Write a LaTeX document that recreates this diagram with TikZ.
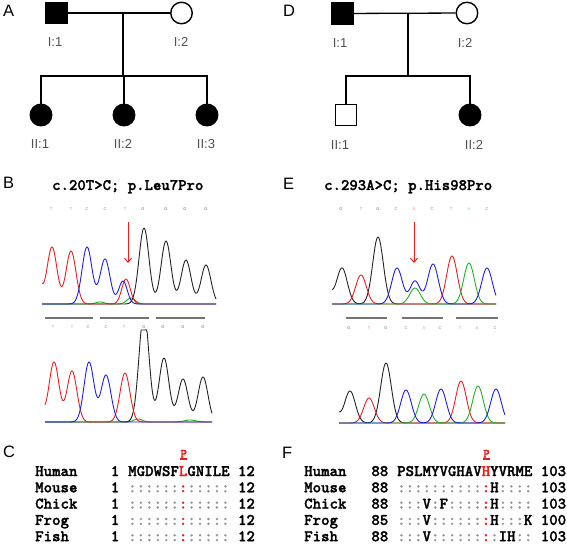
\documentclass[tikz,border=0pt]{standalone}
\usepackage{fontspec}
\setmainfont{Liberation Sans}
\newfontfamily\courb{lmmonolt10-bold.otf}[FakeBold=1.6]
\usetikzlibrary{arrows.meta}
\definecolor{tred}{RGB}{228,32,32}
\definecolor{tblue}{RGB}{32,32,215}
\definecolor{tgreen}{RGB}{35,175,35}
\definecolor{tblack}{RGB}{35,35,35}
\definecolor{ared}{RGB}{230,30,30}
\definecolor{colgray}{RGB}{150,150,150}
\definecolor{lblgray}{RGB}{80,80,80}
\newcommand{\gcl}[1]{\textcolor{colgray}{#1}}
\newcommand{\rcl}[1]{\textcolor{ared}{#1}}
\begin{document}
\begin{tikzpicture}[x=1pt,y=-1pt,
  declare function={gs(\gx,\gc,\gw)=exp(-((\gx-\gc)/\gw)*((\gx-\gc)/\gw));},
  panel/.style={font=\fontsize{16.5}{16.5}\selectfont, inner sep=0pt, anchor=base west},
  male/.style={draw, rectangle, line width=1.4pt, minimum size=21.5pt, inner sep=0pt},
  female/.style={draw, circle, line width=1.4pt, minimum size=21.5pt, inner sep=0pt},
  aff/.style={fill=black},
  pedline/.style={line width=1.3pt},
  plabel/.style={font=\fontsize{13}{13}\selectfont, text=lblgray, inner sep=0pt},
  trace/.style={line width=0.9pt, line join=round},
  basel/.style={font=\fontsize{4}{4}\selectfont, inner sep=0pt},
  sepbar/.style={line width=2pt, black!55},
  mutarrow/.style={ared, line width=1pt, -{Straight Barb[length=4pt,width=7pt]}},
  mono/.style={font=\courb\fontsize{16.1}{16.1}\selectfont, inner sep=0pt},
  title/.style={mono, font=\courb\fontsize{16}{16}\selectfont, anchor=base west},
  aln/.style={mono, anchor=base west},
  alnr/.style={mono, anchor=base east},
]
\useasboundingbox (0,0) rectangle (567,545);

% ---------------- panel labels
\node[panel] (lA) at (3,17) {A};
\node[panel] (lD) at (283,17) {D};
\node[panel] (lB) at (3,189) {B};
\node[panel] (lE) at (283,190) {E};
\node[panel] (lC) at (3,457) {C};
\node[panel] (lF) at (282,458) {F};

% ---------------- pedigree A
\node[male,aff] (a11) at (56.5,13) {};
\node[female] (a12) at (181.5,13) {};
\coordinate (am) at (123,13);
\coordinate (as) at (123,76);
\node[female,aff] (a21) at (41,115) {};
\node[female,aff] (a22) at (124,115) {};
\node[female,aff] (a23) at (207,115) {};
\draw[pedline] (a11) -- (a12);
\draw[pedline] (am) -- (as);
\draw[pedline] (a21.north) |- (as) -| (a23.north);
\draw[pedline] (a22.north) -- (a22.north |- as);
\node[plabel] (ta11) at (55,42) {I:1};
\node[plabel] (ta12) at (181,42) {I:2};
\node[plabel] (ta21) at (40,144) {II:1};
\node[plabel] (ta22) at (123,144) {II:2};
\node[plabel] (ta23) at (206,144) {II:3};

% ---------------- pedigree D
\node[male,aff] (d11) at (342.5,13.5) {};
\node[female] (d12) at (467,13) {};
\coordinate (dm) at (408,13);
\coordinate (ds) at (408,76);
\node[male] (d21) at (346,115) {};
\node[female,aff] (d22) at (470,115) {};
\draw[pedline] (d11) -- (d12);
\draw[pedline] (dm) -- (ds);
\draw[pedline] (d21.north) |- (ds) -| (d22.north);
\node[plabel] (td11) at (340,43) {I:1};
\node[plabel] (td12) at (465,43) {I:2};
\node[plabel] (td21) at (340,145) {II:1};
\node[plabel] (td22) at (474,145) {II:2};

% ---------------- titles
\node[title] (tB) at (52,190) {c.20T>C; p.Leu7Pro};
\node[title] (tE) at (324,190) {c.293A>C; p.His98Pro};

% ---------------- chromatogram B (top)
\foreach \xx/\ll/\cc in {51/T/tred,71/T/tred,87/C/tblue,105/C/tblue,125/T/tred,143/G/black,166/G/black,185/G/black,206/G/black}
  \node[basel, text=\cc!60] at (\xx,209) {\ll};
\draw[trace,tgreen] plot[domain=42:216,samples=120] (\x,{304-6*gs(\x,131,6)-2*gs(\x,100,6)});
\draw[trace,tblack] plot[domain=42:216,samples=200] (\x,{304-76*gs(\x,144,7)-63*gs(\x,166,7)-44*gs(\x,186,7)-39*gs(\x,206,7)});
\draw[trace,tred] plot[domain=42:216,samples=200] (\x,{304-50*gs(\x,34,7)-57*gs(\x,52,7)-53*gs(\x,71,7)-25*gs(\x,126,6)});
\draw[trace,tblue] plot[domain=42:216,samples=200] (\x,{304-57*gs(\x,87,7)-45*gs(\x,105,7)-23*gs(\x,123,6)});
\coordinate (bat) at (128,222);
\coordinate (bah) at (128,263);
\draw[mutarrow] (bat) -- (bah);

\draw[sepbar] (45,318) -- (93,318);
\draw[sepbar] (100,318) -- (149,318);
\draw[sepbar] (156,318) -- (205,318);

% ---------------- chromatogram B (bottom)
\foreach \xx/\ll/\cc in {53/T/tred,72/T/tred,88/C/tblue,106/C/tblue,124/T/tred,144/G/black,163/G/black,183/G/black,203/G/black}
  \node[basel, text=\cc!60] at (\xx,327) {\ll};
\draw[trace,tgreen] plot[domain=45:212,samples=120] (\x,{422-3*gs(\x,138,6)-2*gs(\x,190,8)});
\draw[trace,tblack] plot[domain=45:212,samples=220] (\x,{422-min(92,110*gs(\x,144,7))-64*gs(\x,164,7)-43*gs(\x,183,7)-45*gs(\x,203,7)});
\draw[trace,tred] plot[domain=45:212,samples=200] (\x,{422-30*gs(\x,36,7)-60*gs(\x,54,7)-51*gs(\x,72,7)-49*gs(\x,125,7)});
\draw[trace,tblue] plot[domain=45:212,samples=200] (\x,{422-60*gs(\x,89,7)-47*gs(\x,106,7)});

% ---------------- chromatogram E (top)
\foreach \xx/\ll/\cc in {341/G/black,361/T/tred,378/G/black,396/C/tblue,414/A/tred,432/C/tblue,451/T/tred,469/A/tgreen,487/C/tblue}
  \node[basel, text=\cc!60] at (\xx,209) {\ll};
\draw[trace,tblack] plot[domain=332:496,samples=200] (\x,{304-20*gs(\x,325,7.5)-36*gs(\x,342,7.5)-67*gs(\x,378,7.5)});
\draw[trace,tred] plot[domain=332:496,samples=200] (\x,{304-29*gs(\x,361,7.5)-48*gs(\x,452,7.5)});
\draw[trace,tgreen] plot[domain=332:496,samples=200] (\x,{304-16*gs(\x,415,7.5)-41*gs(\x,469,7.5)});
\draw[trace,tblue] plot[domain=332:496,samples=200] (\x,{304-36*gs(\x,397,7.5)-23*gs(\x,415,7)-40*gs(\x,433,7.5)-36*gs(\x,487,7.5)});
\coordinate (eat) at (414,222);
\coordinate (eah) at (414,263);
\draw[mutarrow] (eat) -- (eah);

\draw[sepbar] (346,318) -- (387,318);
\draw[sepbar] (402,318) -- (443,318);
\draw[sepbar] (456,318) -- (498,318);

% ---------------- chromatogram E (bottom)
\foreach \xx/\ll/\cc in {349/G/black,369/T/tred,386/G/black,406/C/tblue,424/A/tgreen,440/C/tblue,460/T/tred,477/A/tgreen,495/C/tblue}
  \node[basel, text=\cc!60] at (\xx,328) {\ll};
\draw[trace,tblack] plot[domain=339:505,samples=200] (\x,{423-18*gs(\x,332,7.5)-32*gs(\x,350,7.5)-60*gs(\x,386,7.5)});
\draw[trace,tred] plot[domain=339:505,samples=200] (\x,{423-25*gs(\x,369,7.5)-42*gs(\x,461,7.5)});
\draw[trace,tgreen] plot[domain=339:505,samples=200] (\x,{423-29*gs(\x,424,7.5)-37*gs(\x,478,7.5)});
\draw[trace,tblue] plot[domain=339:505,samples=200] (\x,{423-33*gs(\x,406,7.5)-34*gs(\x,441,7.5)-34*gs(\x,496,7.5)});

% ---------------- alignment C
\node[mono, text=ared, font=\courb\fontsize{12.5}{12.5}\selectfont, anchor=base] (pC) at (183.7,457.5) {P};
\draw[ared, line width=1.2pt] ([yshift=-1.5pt]pC.base west) -- ([yshift=-1.5pt]pC.base east);
\foreach \yy/\nm/\sq in {
  476/Human/{MGDWSF\rcl{L}GNILE},
  492.3/Mouse/{\gcl{::::::}\rcl{:}\gcl{:::::}},
  508.6/Chick/{\gcl{::::::}\rcl{:}\gcl{:::::}},
  524.9/Frog/{\gcl{::::::}\rcl{:}\gcl{:::::}},
  541.2/Fish/{\gcl{::::::}\rcl{:}\gcl{:::::}}}{
  \node[aln] at (35,\yy) {\nm};
  \node[alnr] at (119.5,\yy) {1};
  \node[aln] at (128,\yy) {\sq};
  \node[aln] at (237.8,\yy) {12};
}

% ---------------- alignment F
\node[mono, text=ared, font=\courb\fontsize{12.5}{12.5}\selectfont, anchor=base] (pF) at (486.5,457.5) {P};
\draw[ared, line width=1.2pt] ([yshift=-1.5pt]pF.base west) -- ([yshift=-1.5pt]pF.base east);
\foreach \yy/\nm/\st/\sq/\en in {
  476/Human/88/{PSLMYVGHAV\rcl{H}YVRME}/103,
  492.3/Mouse/88/{\gcl{::::::::::}\rcl{:}H\gcl{::::}}/103,
  508.6/Chick/88/{\gcl{:::}V\gcl{:}F\gcl{::::}\rcl{:}H\gcl{::::}}/103,
  524.9/Frog/85/{\gcl{:::}V\gcl{::::::}\rcl{:}H\gcl{:::}K}/100,
  541.2/Fish/88/{\gcl{:::}V\gcl{::::::}\rcl{:}\gcl{:}IH\gcl{::}}/103}{
  \node[aln] at (304,\yy) {\nm};
  \node[alnr] at (388.5,\yy) {\st};
  \node[aln] at (397,\yy) {\sq};
  \node[aln] at (540.6,\yy) {\en};
}
\end{tikzpicture}
\end{document}
